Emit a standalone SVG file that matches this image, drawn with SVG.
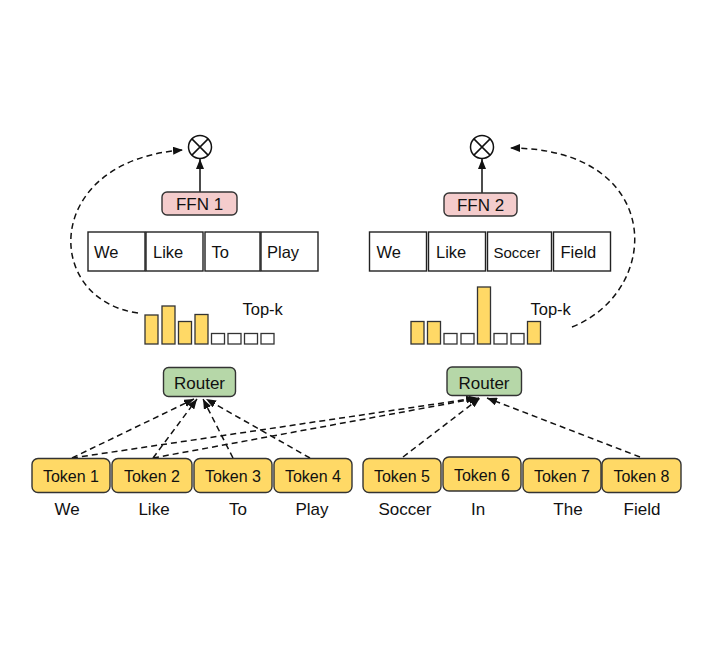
<svg xmlns="http://www.w3.org/2000/svg" width="720" height="665" viewBox="0 0 720 665">
<defs>
<marker id="ah" viewBox="0 0 10 8" refX="10" refY="4" markerWidth="10" markerHeight="8" markerUnits="userSpaceOnUse" orient="auto">
<path d="M0,0 L10,4 L0,8 Z" fill="#111"/>
</marker>
<style>
text{font-family:"Liberation Sans",Arial,sans-serif;fill:#111}
.box{fill:#fff;stroke:#222;stroke-width:1.4}
.tok{fill:#ffd966;stroke:#333;stroke-width:1.4}
.bar{fill:#ffd966;stroke:#333;stroke-width:1.3}
.emp{fill:#fff;stroke:#333;stroke-width:1.3}
.router{fill:#b6d7a8;stroke:#333;stroke-width:1.4}
.ffn{fill:#f4cccc;stroke:#333;stroke-width:1.4}
.dash{fill:none;stroke:#111;stroke-width:1.5;stroke-dasharray:6,4}
.solid{fill:none;stroke:#111;stroke-width:1.5}
.w{font-size:16.5px}
.t{font-size:16px;text-anchor:middle}
.l{font-size:17px;text-anchor:middle}
</style>
</defs>
<rect width="720" height="665" fill="#fff"/>

<g id="connectors">
<path class="dash" d="M72,458 L194,399" marker-end="url(#ah)"/>
<path class="dash" d="M153,458 L197,399" marker-end="url(#ah)"/>
<path class="dash" d="M233,458 L203,399" marker-end="url(#ah)"/>
<path class="dash" d="M310,458 L206,399" marker-end="url(#ah)"/>
<path class="dash" d="M72,458 L476,398" marker-end="url(#ah)"/>
<path class="dash" d="M153,458 L479,398" marker-end="url(#ah)"/>
<path class="dash" d="M403,457 L480,398" marker-end="url(#ah)"/>
<path class="dash" d="M640,457 L487,398" marker-end="url(#ah)"/>
<path class="solid" d="M200,192 L200,159" marker-end="url(#ah)"/>
<path class="solid" d="M482,193 L482,159" marker-end="url(#ah)"/>
<path class="dash" d="M138,313 C42,300 42,160 183,150" marker-end="url(#ah)"/>
<path class="dash" d="M572,327 C664,290 664,148 510,148" marker-end="url(#ah)"/>
</g>

<g id="mult1">
<circle cx="200" cy="147" r="11.5" fill="#fff" stroke="#111" stroke-width="1.5"/>
<path class="solid" d="M191.9,138.9 L208.1,155.1 M208.1,138.9 L191.9,155.1"/>
</g>
<g id="mult2">
<circle cx="482" cy="147" r="11.5" fill="#fff" stroke="#111" stroke-width="1.5"/>
<path class="solid" d="M473.9,138.9 L490.1,155.1 M490.1,138.9 L473.9,155.1"/>
</g>

<g id="ffn1">
<rect class="ffn" x="162" y="192" width="75" height="23" rx="5"/>
<text x="199.5" y="209.5" font-size="17" text-anchor="middle">FFN 1</text>
</g>
<g id="ffn2">
<rect class="ffn" x="444" y="193" width="73" height="23" rx="5"/>
<text x="480.5" y="210.5" font-size="17" text-anchor="middle">FFN 2</text>
</g>

<g id="words1">
<rect class="box" x="88" y="232" width="57" height="39"/>
<rect class="box" x="146" y="232" width="57" height="39"/>
<rect class="box" x="205" y="232" width="55" height="39"/>
<rect class="box" x="261" y="232" width="57" height="39"/>
<text class="w" x="94" y="258">We</text>
<text class="w" x="153" y="258">Like</text>
<text class="w" x="211.5" y="258">To</text>
<text class="w" x="267" y="258">Play</text>
</g>
<g id="words2">
<rect class="box" x="369.5" y="232" width="57" height="39"/>
<rect class="box" x="428.5" y="232" width="57" height="39"/>
<rect class="box" x="487.5" y="232" width="64" height="39"/>
<rect class="box" x="553.5" y="232" width="57" height="39"/>
<text class="w" x="376.5" y="258">We</text>
<text class="w" x="436" y="258">Like</text>
<text x="493.5" y="257.5" font-size="15">Soccer</text>
<text class="w" x="560.5" y="258">Field</text>
</g>

<g id="bars1">
<rect class="bar" x="145" y="315" width="13" height="29"/>
<rect class="bar" x="162" y="306" width="13" height="38"/>
<rect class="bar" x="178.5" y="321.5" width="13" height="22.5"/>
<rect class="bar" x="195" y="314.5" width="13" height="29.5"/>
<rect class="emp" x="211.5" y="333.5" width="13" height="10.5"/>
<rect class="emp" x="228" y="333.5" width="13" height="10.5"/>
<rect class="emp" x="244.5" y="333.5" width="13" height="10.5"/>
<rect class="emp" x="261" y="333.5" width="13" height="10.5"/>
<text x="242.5" y="314.5" font-size="16.5">Top-k</text>
</g>
<g id="bars2">
<rect class="bar" x="411" y="321.5" width="13" height="22.5"/>
<rect class="bar" x="427.5" y="321.5" width="13" height="22.5"/>
<rect class="emp" x="444" y="333.5" width="13" height="10.5"/>
<rect class="emp" x="461" y="333.5" width="13" height="10.5"/>
<rect class="bar" x="477.5" y="287" width="13" height="57"/>
<rect class="emp" x="494" y="333.5" width="13" height="10.5"/>
<rect class="emp" x="511" y="333.5" width="13" height="10.5"/>
<rect class="bar" x="527.5" y="321.5" width="13" height="22.5"/>
<text x="530.5" y="315" font-size="16.5">Top-k</text>
</g>

<g id="router1">
<rect class="router" x="163.5" y="367.5" width="72" height="29" rx="5"/>
<text x="199.5" y="389" font-size="17" text-anchor="middle">Router</text>
</g>
<g id="router2">
<rect class="router" x="447" y="367" width="74.5" height="28.5" rx="5"/>
<text x="484" y="388.5" font-size="17" text-anchor="middle">Router</text>
</g>

<g id="token1"><rect class="tok" x="32" y="458.5" width="78" height="34" rx="6"/><text class="t" x="71" y="482">Token 1</text></g>
<g id="token2"><rect class="tok" x="112" y="458.5" width="80" height="34" rx="6"/><text class="t" x="152" y="482">Token 2</text></g>
<g id="token3"><rect class="tok" x="194" y="458.5" width="78" height="34" rx="6"/><text class="t" x="233" y="482">Token 3</text></g>
<g id="token4"><rect class="tok" x="274" y="458.5" width="78" height="34" rx="6"/><text class="t" x="313" y="482">Token 4</text></g>
<g id="token5"><rect class="tok" x="363" y="458.5" width="78" height="34" rx="6"/><text class="t" x="402" y="482">Token 5</text></g>
<g id="token6"><rect class="tok" x="443" y="457" width="78" height="34" rx="6"/><text class="t" x="482" y="480.5">Token 6</text></g>
<g id="token7"><rect class="tok" x="523" y="458.5" width="78" height="34" rx="6"/><text class="t" x="562" y="482">Token 7</text></g>
<g id="token8"><rect class="tok" x="602" y="458.5" width="79" height="34" rx="6"/><text class="t" x="641.5" y="482">Token 8</text></g>

<g id="labels">
<text class="l" x="67" y="515">We</text>
<text class="l" x="154" y="515">Like</text>
<text class="l" x="238" y="515">To</text>
<text class="l" x="312" y="515">Play</text>
<text class="l" x="405" y="515">Soccer</text>
<text class="l" x="478" y="515">In</text>
<text class="l" x="568" y="515">The</text>
<text class="l" x="642" y="515">Field</text>
</g>
</svg>
